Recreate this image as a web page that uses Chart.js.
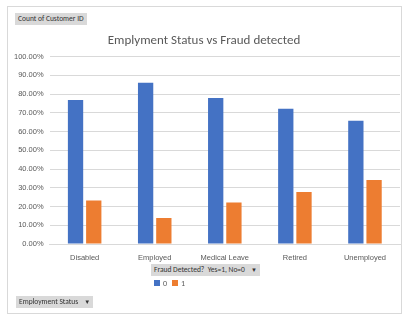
<!DOCTYPE html>
<html>
<head>
<meta charset="utf-8">
<script src="https://cdn.jsdelivr.net/npm/chart.js@4"></script>
<style>
  body { margin: 0; background: #fff; font-family: Calibri, "Liberation Sans", Arial, sans-serif; }
  #frame { position: absolute; left: 7px; top: 6px; width: 393px; height: 306px; border: 1px solid #d9d9d9; }
  #wrap { position: absolute; left: 0; top: 0; width: 393px; height: 285px; }
  .pivot { position: absolute; background: #d9d9d9; color: #333; font-size: 7.5px; line-height: 12px; height: 12px; padding: 0 3px; white-space: nowrap; }
  .pivot .dd { font-size: 6px; margin-left: 6px; }
  #keys { position: absolute; left: 146px; top: 271px; font-size: 8px; color: #595959; line-height: 10px; white-space: nowrap; }
  #keys span.sw { display: inline-block; width: 6px; height: 6px; margin-right: 3px; vertical-align: 0; }
  #keys span.item { margin-right: 5px; }
</style>
</head>
<body>
<div id="frame">
  <div id="wrap"><canvas id="chart"></canvas></div>
  <div class="pivot" style="left:7px; top:6px;">Count of Customer ID</div>
  <div class="pivot" style="left:143px; top:257px;">Fraud Detected?&nbsp; Yes=1, No=0<span class="dd">&#9660;</span></div>
  <div id="keys"></div>
  <div class="pivot" style="left:8px; top:289px;">Employment Status<span class="dd">&#9660;</span></div>
</div>
<script>
// share of customers per employment status, split by fraud flag
const statuses = ["Disabled", "Employed", "Medical Leave", "Retired", "Unemployed"];
const notFraud = [0.768, 0.861, 0.779, 0.722, 0.658];
const fraud = [0.232, 0.139, 0.221, 0.278, 0.342];
const seriesNames = ["0", "1"];

const grey = '#595959';

const chart = new Chart(document.getElementById('chart'), {
    type: 'bar',
    data: {
        labels: statuses,
        datasets: [
            { label: seriesNames[0], data: notFraud, backgroundColor: '#4472c4', barPercentage: 0.84, categoryPercentage: 0.52 },
            { label: seriesNames[1], data: fraud, backgroundColor: '#ed7d31', barPercentage: 0.84, categoryPercentage: 0.52 }
        ]
    },
    options: {
        responsive: true,
        maintainAspectRatio: false,
        animation: false,
        layout: { padding: { left: 0, right: 1, top: 0, bottom: 29 } },
        plugins: {
            title: {
                display: true,
                text: 'Emplyment Status vs Fraud detected',
                color: grey,
                font: { size: 13, weight: 'normal', family: 'Calibri, "Liberation Sans", Arial' },
                padding: { top: 26, bottom: 8 }
            },
            legend: { display: false },
            tooltip: { enabled: false }
        },
        scales: {
            x: {
                grid: { display: false },
                border: { color: '#d9d9d9' },
                ticks: { color: grey, font: { size: 7.5 }, padding: 1, maxRotation: 0, autoSkip: false }
            },
            y: {
                min: 0, max: 1,
                ticks: {
                    stepSize: 0.1,
                    color: grey,
                    font: { size: 7.5 },
                    padding: 6,
                    callback: v => (v * 100).toFixed(2) + '%'
                },
                grid: { color: '#d9d9d9', drawTicks: false },
                border: { display: false }
            }
        }
    }
});

// legend keys sit under the pivot field button, left aligned with it
document.getElementById('keys').innerHTML = chart.data.datasets.map(ds =>
    `<span class="item"><span class="sw" style="background:${ds.backgroundColor}"></span>${ds.label}</span>`
).join('');
</script>
</body>
</html>
